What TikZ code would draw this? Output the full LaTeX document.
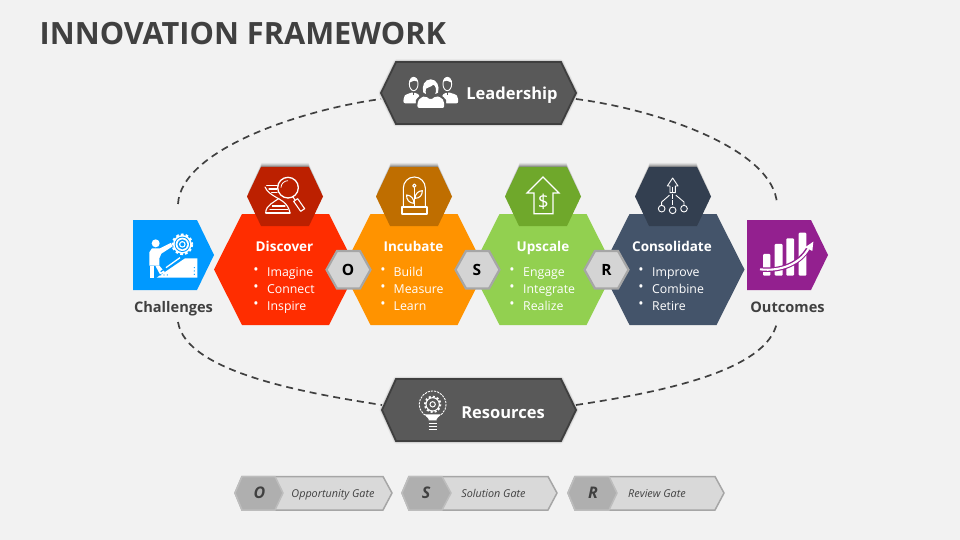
\documentclass[tikz,border=0pt]{standalone}
\usepackage{fontspec}
\setmainfont{Open Sans}
\definecolor{bgc}{HTML}{F2F2F2}
\definecolor{ink}{HTML}{404040}
\definecolor{HTMLblue}{HTML}{0099FF}
\definecolor{HTMLpurple}{HTML}{93208F}
\definecolor{HTMLred}{HTML}{FF2D00}
\definecolor{HTMLorange}{HTML}{FF9300}
\definecolor{HTMLgreen}{HTML}{92D050}
\definecolor{HTMLnavy}{HTML}{44546A}
\definecolor{HTMLdred}{HTML}{BC2000}
\definecolor{HTMLdorange}{HTML}{BF6E00}
\definecolor{HTMLdgreen}{HTML}{6FA82B}
\definecolor{HTMLdnavy}{HTML}{333F50}
\definecolor{D0}{HTML}{D4D4D4}\definecolor{G6}{HTML}{A6A6A6}
\definecolor{D5}{HTML}{595959}\definecolor{D3}{HTML}{3F3F3F}
\definecolor{D9}{HTML}{D9D9D9}\definecolor{AF}{HTML}{AFAFAF}\definecolor{B8}{HTML}{BDBDBD}
\tikzset{
  x=1pt,y=-1pt,
  head/.style={font=\bfseries\fontsize{13.5}{13.5}\selectfont,text=white,inner sep=0pt,text height=10pt,text depth=3pt},
  item/.style={font=\fontsize{12.3}{12.3}\selectfont,text=white,anchor=west,inner sep=0pt,text height=9pt,text depth=3pt},
  dotb/.style={font=\fontsize{14}{14}\selectfont,text=white,inner sep=0pt},
  gatelet/.style={font=\bfseries\fontsize{15.5}{15.5}\selectfont,text=black,inner sep=0pt},
  gatehex/.style={fill=D0,draw=G6,line width=2.2pt,line join=miter},
  darkhex/.style={fill=D5,draw=D3,line width=1.8pt,line join=miter},
  legbody/.style={fill=D9,draw=G6,line width=1.5pt},
  leghex/.style={fill=AF,draw=B8,line width=1.5pt},
  legtxt/.style={font=\itshape\fontsize{10.8}{10.8}\selectfont,text=ink,inner sep=0pt,text height=8pt,text depth=3pt},
  leglet/.style={font=\bfseries\itshape\fontsize{16}{16}\selectfont,text=ink,inner sep=0pt},
  sidelab/.style={font=\bfseries\fontsize{14.6}{14.6}\selectfont,text=ink,inner sep=0pt,text height=11pt,text depth=3pt},
  bighead/.style={font=\bfseries\fontsize{16.5}{16.5}\selectfont,text=white,inner sep=0pt,text height=12pt,text depth=4pt},
  ringline/.style={draw=ink,line width=1.7pt,dash pattern=on 7pt off 5pt},
  ico/.style={draw=white,line width=1.1pt,fill=none,line cap=round,line join=round},
}
% hexagon: left vertex, top-left, top-right, right vertex, top, bottom
\newcommand{\hexp}[6]{(#1,{(#5+#6)/2}) -- (#2,#5) -- (#3,#5) -- (#4,{(#5+#6)/2}) -- (#3,#6) -- (#2,#6) -- cycle}
\newcommand{\smallhex}[2]{%
  \foreach \o/\a in {4/0.06,3/0.09,2/0.13,1/0.18}{
    \fill[black,opacity=\a] \hexp{#1-37}{#1-23.5}{#1+23.5}{#1+37}{167-\o}{226-\o};}
  \fill[#2] \hexp{#1-38}{#1-24}{#1+24}{#1+38}{167}{226};}
\newcommand{\bighex}[2]{\fill[#2] \hexp{#1-71.5}{#1-43.5}{#1+43.5}{#1+71.5}{214}{325};}
\newcommand{\gatehx}[1]{\draw[gatehex] \hexp{#1-22}{#1-11.5}{#1+11.5}{#1+22}{251}{288.5};}
\begin{document}
\begin{tikzpicture}
\useasboundingbox (0,0) rectangle (960,540);
\fill[bgc] (0,0) rectangle (960,540);
\node[anchor=west,inner sep=0pt,font=\bfseries\fontsize{30.7}{32}\selectfont,text=ink] (title) at (39.5,34) {INNOVATION FRAMEWORK};

% ring connectors
\coordinate (chalTop) at (178,204);
\coordinate (outTop) at (777,204);
\coordinate (chalBot) at (178,322);
\coordinate (outBot) at (777,322);
\coordinate (leadW) at (381,99);
\coordinate (leadE) at (576,99);
\coordinate (resW) at (382,405);
\coordinate (resE) at (576,405);
\draw[ringline] (chalTop) .. controls (181,150) and (300,110) .. (leadW);
\draw[ringline] (leadE) .. controls (660,110) and (774,150) .. (outTop);
\draw[ringline] (chalBot) .. controls (186,372) and (305,393) .. (resW);
\draw[ringline] (resE) .. controls (655,393) and (768,372) .. (outBot);

% leader boxes
\foreach \o/\a in {2.5/0.06,1.5/0.1}{
  \draw[black,opacity=\a,line width=\o*2pt,line join=round] \hexp{381}{396}{561}{576}{62}{124};
  \draw[black,opacity=\a,line width=\o*2pt,line join=round] \hexp{382}{396}{561}{576}{379}{441};}
\draw[darkhex] \hexp{381}{396}{561}{576}{62}{124};
\draw[darkhex] \hexp{382}{396}{561}{576}{379}{441};
\node[bighead] (leadership) at (512,96) {Leadership};
\node[bighead] (resources) at (503,414) {Resources};

% side pentagons
\fill[HTMLblue] (133,220) -- (197,220) -- (214,255) -- (197,290) -- (133,290) -- cycle;
\fill[HTMLpurple] (747,220) -- (811,220) -- (828,255) -- (811,290) -- (747,290) -- cycle;
\node[sidelab] (challenges) at (173.5,308) {Challenges};
\node[sidelab] (outcomes) at (787.5,308) {Outcomes};

% big hexagons
\bighex{285.5}{HTMLred}
\bighex{414}{HTMLorange}
\bighex{543}{HTMLgreen}
\bighex{673}{HTMLnavy}
% top hexagons
\smallhex{285}{HTMLdred}
\smallhex{414}{HTMLdorange}
\smallhex{543}{HTMLdgreen}
\smallhex{673}{HTMLdnavy}
% gates
\gatehx{348.5}\gatehx{477.5}\gatehx{606.5}
\node[gatelet] (gO) at (348,270) {O};
\node[gatelet] (gS) at (477,270) {S};
\node[gatelet] (gR) at (606.5,270) {R};

% texts
\node[head] (discover) at (284.5,248) {Discover};
\node[head] (incubate) at (413.5,248) {Incubate};
\node[head] (upscale) at (543,248) {Upscale};
\node[head] (consolidate) at (672,248) {Consolidate};
\foreach \nm/\bx/\tx/\a/\b/\c in {d/256/267/Imagine/Connect/Inspire,i/383/393.5/Build/Measure/Learn,u/512/523/Engage/Integrate/Realize,c/641/652/Improve/Combine/Retire}{
  \node[dotb] (\nm b1) at (\bx,271) {•};
  \node[dotb] (\nm b2) at (\bx,288) {•};
  \node[dotb] (\nm b3) at (\bx,305) {•};
  \node[item] (\nm t1) at (\tx,273) {\a};
  \node[item] (\nm t2) at (\tx,290) {\b};
  \node[item] (\nm t3) at (\tx,307) {\c};
}

% legend
\foreach \nm/\l/\h/\hr/\s/\r/\lt/\cx/\txt/\tcx in {O/235/275/283/383/392/O/259.5/Opportunity Gate/333,S/402/442/451/548/557/S/426/Solution Gate/493.5,R/568/609/617/715/724/R/593/Review Gate/657}{
  \draw[legbody] (\l+7,476.5) -- (\s,476.5) -- (\r,493) -- (\s,510) -- (\l+7,510) -- (\l,493) -- cycle;
  \draw[leghex] (\l,493) -- (\l+7,476.5) -- (\h,476.5) -- (\hr,493) -- (\h,510) -- (\l+7,510) -- cycle;
  \node[leglet] (leg\nm) at (\cx,493) {\lt};
  \node[legtxt] (legt\nm) at (\tcx,495) {\txt};
}

% ---- icons ----
% challenges
\begin{scope}[shift={(140,225)},x=0.3333pt,y=-0.3333pt]
  \fill[white] (47,55) circle (12);
  \fill[white] (36,70) -- (60,70) -- (92,54) -- (98,64) -- (64,86) -- (58,100) -- (58,122) -- (28,122) -- (28,82) -- cycle;
  \fill[white] (30,124) rectangle (42,158);
  \fill[white] (46,122) -- (58,122) -- (75,142) -- (60,148) -- cycle;
  \fill[white] (50,158) -- (135,100) -- (172,100) -- (172,158) -- cycle;
  \draw[HTMLblue,line width=1.2pt] (62,140) -- (130,92);
  \draw[white,line width=1.3pt] (78,128) -- (120,98);
  \draw[white,line width=3pt,dash pattern=on 2.5pt off 2.2pt] (127,58) circle (28);
  \fill[white] (127,58) circle (28);
  \fill[HTMLblue] (127,58) circle (23);
  \fill[white] (127,58) circle (20);
  \fill[HTMLblue] (127,58) circle (15);
  \fill[white] (127,58) circle (10);
  \fill[HTMLblue] (127,58) circle (6);
  \foreach \p in {(163,128),(163,138),(163,148),(62,150),(72,150),(82,150)}{\fill[HTMLblue] \p circle (2);}
\end{scope}
% discover
\begin{scope}[shift={(255,170)},x=0.3333pt,y=-0.3333pt]
  \draw[ico] (35,47) -- (68,47) (42,57) -- (66,57) (50,68) -- (66,68);
  \draw[ico] (30,51) .. controls (42,80) and (85,85) .. (98,110) .. controls (103,120) and (105,125) .. (105,129);
  \draw[ico] (32,129) .. controls (32,105) and (60,95) .. (72,85);
  \draw[ico] (52,108) -- (90,108) (45,118) -- (98,118) (33,129) -- (105,129);
  \fill[HTMLdred] (99,53) circle (32);
  \draw[white,line width=1.3pt] (99,53) circle (31);
  \draw[white,line width=0.8pt] (78,53) arc (180:270:21);
  \draw[ico] (114,81) -- (120,90);
  \draw[ico] (116,94) -- (128,86) -- (149,116) -- (137,124) -- cycle;
\end{scope}
% incubate
\begin{scope}[shift={(390,170)},x=0.3333pt,y=-0.3333pt]
  \draw[ico] (40,111) -- (40,54) arc (180:360:33) -- (106,111);
  \draw[ico] (36,111) rectangle (111,132);
  \draw[ico] (73,111) -- (73,53);
  \draw[ico] (73,47) circle (5);
  \draw[ico] (75,85) .. controls (76,70) and (85,63) .. (97,62) .. controls (97,75) and (90,85) .. (75,85);
  \draw[ico] (72,100) .. controls (72,88) and (65,76) .. (50,75) .. controls (48,88) and (58,100) .. (72,100);
\end{scope}
% upscale
\begin{scope}[shift={(515,170)},x=0.3333pt,y=-0.3333pt]
  \draw[white,line width=1.2pt,line join=miter] (84,21) -- (132,69) -- (114,69) -- (114,131) -- (57,131) -- (57,69) -- (36,69) -- cycle;
  \node[text=white,inner sep=0pt,font=\fontsize{19}{19}\selectfont] (dollar) at (85,97) {\$};
\end{scope}
% consolidate
\begin{scope}[shift={(650,170)},x=0.3333pt,y=-0.3333pt]
  \draw[ico,line width=0.9pt] (68,24) -- (84,48) -- (76,48) -- (76,68) -- (60,68) -- (60,48) -- (52,48) -- cycle;
  \draw[white,line width=1.1pt,dash pattern=on 5pt off 1.5pt] (68,52) -- (68,110);
  \draw[ico,line width=0.9pt] (35,116) circle (10) (68,121) circle (10) (102,116) circle (10);
  \draw[ico,line width=0.9pt] (35,106) -- (35,96) -- (58,76) (102,106) -- (102,96) -- (78,76);
\end{scope}
% outcomes
\begin{scope}[shift={(755,225)},x=0.3333pt,y=-0.3333pt]
  \fill[white,rounded corners=1pt] (24,87) rectangle (46,152);
  \fill[white,rounded corners=1pt] (59,57) rectangle (83,152);
  \fill[white,rounded corners=1pt] (94,40) rectangle (117,152);
  \fill[white,rounded corners=1pt] (131,23) rectangle (154,152);
  \draw[HTMLpurple,line width=4.5pt] (15,133) .. controls (80,140) and (135,115) .. (160,70);
  \draw[white,line width=2.1pt] (15,133) .. controls (80,140) and (135,115) .. (160,72);
  \fill[white] (175,50) -- (172,78) -- (150,67) -- cycle;
\end{scope}
% leadership
\begin{scope}[shift={(370,50)},x=0.3333pt,y=-0.3333pt]
  % side men
  \fill[white,rounded corners=2pt] (100,160) -- (101,142) .. controls (106,134) and (118,130) .. (130,126) -- (150,135) -- (150,160) -- cycle;
  \fill[white,rounded corners=2pt] (265,160) -- (264,142) .. controls (259,134) and (247,130) .. (233,126) -- (215,135) -- (215,160) -- cycle;
  \draw[D5,line width=0.9pt] (130,126) -- (130,135) (233,126) -- (233,135);
  \draw[white,line width=0.9pt] (131,102) ellipse (13 and 20);
  \draw[white,line width=0.9pt] (232,102) ellipse (13 and 20);
  \fill[white] (118,98) .. controls (118,78) and (144,78) .. (144,95) -- (132,92) -- cycle;
  \fill[white] (245,98) .. controls (245,78) and (219,78) .. (219,95) -- (231,92) -- cycle;
  % woman, with a dark halo
  \fill[D5] (136,178) -- (138,150) .. controls (145,140) and (155,132) .. (160,128) .. controls (150,110) and (160,82) .. (182,82) .. controls (204,82) and (214,110) .. (204,128) .. controls (210,132) and (220,140) .. (228,150) -- (230,178) -- cycle;
  \fill[white,rounded corners=2pt] (142,174) -- (143,154) .. controls (150,144) and (160,140) .. (166,138) -- (182,150) -- (198,138) .. controls (206,140) and (216,144) .. (222,154) -- (223,174) -- cycle;
  \fill[white] (160,128) .. controls (154,108) and (164,88) .. (182,88) .. controls (200,88) and (210,108) .. (204,128) -- (196,132) .. controls (200,120) and (198,108) .. (190,104) .. controls (182,112) and (172,112) .. (168,116) .. controls (166,122) and (167,128) .. (168,132) -- cycle;
\end{scope}
% resources
\begin{scope}[shift={(410,385)},x=0.3333pt,y=-0.3333pt]
  \draw[white,line width=0.9pt,dash pattern=on 2.2pt off 1pt] (68,58) circle (40);
  \draw[white,line width=2pt,dash pattern=on 2pt off 2pt] (68,58) circle (23);
  \draw[white,line width=1pt] (68,58) circle (20) (68,58) circle (8);
  \fill[white] (44,88) -- (92,88) -- (80,102) -- (80,106) -- (56,106) -- (56,102) -- cycle;
  \draw[white,line width=1.1pt] (56,115) -- (80,115) (56,124) -- (80,124) (56,133) -- (80,133);
\end{scope}
\end{tikzpicture}
\end{document}
